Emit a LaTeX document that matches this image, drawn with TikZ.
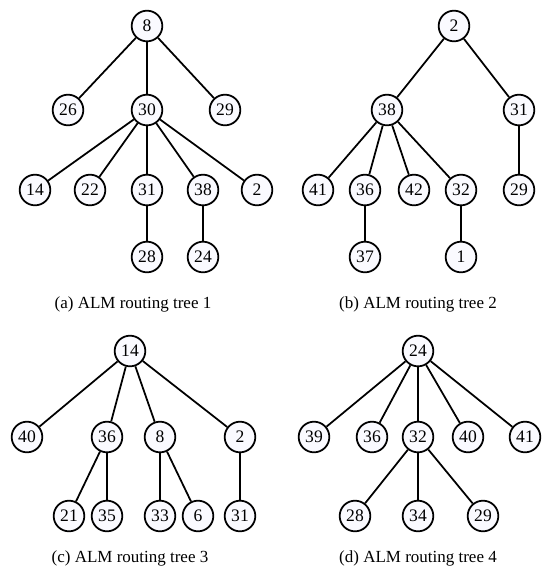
\documentclass[tikz,border=0pt]{standalone}
\usepackage{fontspec}
\setmainfont{Liberation Serif}
\tikzset{
  vertex/.style={circle, draw=black, line width=1.5pt, fill=blue!2, minimum size=0.92cm, inner sep=0pt, font=\fontsize{15}{17}\selectfont},
  branch/.style={line width=1.5pt},
  caption/.style={font=\fontsize{14.5}{16}\selectfont}
}

\begin{document}
\begin{tikzpicture}[x=0.03cm, y=-0.03cm]
			%%%%% START %%%%%
			\useasboundingbox[fill=white] (0, 0) rectangle (550, 582);
			
			% (a) routing tree 1
			\node[vertex] (a8)  at (147, 26)  {8};
			\node[vertex] (a26) at (68, 110)  {26};
			\node[vertex] (a30) at (147, 110) {30};
			\node[vertex] (a29) at (225, 110) {29};
			\node[vertex] (a14) at (35, 190)  {14};
			\node[vertex] (a22) at (90, 190)  {22};
			\node[vertex] (a31) at (147, 190) {31};
			\node[vertex] (a38) at (203, 190) {38};
			\node[vertex] (a2)  at (257, 190) {2};
			\node[vertex] (a28) at (147, 257) {28};
			\node[vertex] (a24) at (203, 257) {24};
			\draw[branch] (a8) -- (a26);
			\draw[branch] (a8) -- (a30);
			\draw[branch] (a8) -- (a29);
			\draw[branch] (a30) -- (a14);
			\draw[branch] (a30) -- (a22);
			\draw[branch] (a30) -- (a31);
			\draw[branch] (a30) -- (a38);
			\draw[branch] (a30) -- (a2);
			\draw[branch] (a31) -- (a28);
			\draw[branch] (a38) -- (a24);
			\node[caption] (capa) at (133, 304) {(a) ALM routing tree 1};
			
			% (b) routing tree 2
			\node[vertex] (b2)  at (454, 26)  {2};
			\node[vertex] (b38) at (387, 110) {38};
			\node[vertex] (b31) at (519, 110) {31};
			\node[vertex] (b41) at (318, 190) {41};
			\node[vertex] (b36) at (365, 190) {36};
			\node[vertex] (b42) at (414, 190) {42};
			\node[vertex] (b32) at (461, 190) {32};
			\node[vertex] (b29) at (519, 190) {29};
			\node[vertex] (b37) at (365, 257) {37};
			\node[vertex] (b1)  at (461, 257) {1};
			\draw[branch] (b2) -- (b38);
			\draw[branch] (b2) -- (b31);
			\draw[branch] (b38) -- (b41);
			\draw[branch] (b38) -- (b36);
			\draw[branch] (b38) -- (b42);
			\draw[branch] (b38) -- (b32);
			\draw[branch] (b31) -- (b29);
			\draw[branch] (b36) -- (b37);
			\draw[branch] (b32) -- (b1);
			\node[caption] (capb) at (418, 304) {(b) ALM routing tree 2};
			
			% (c) routing tree 3
			\node[vertex] (c14) at (130, 351) {14};
			\node[vertex] (c40) at (27, 437)  {40};
			\node[vertex] (c36) at (107, 437) {36};
			\node[vertex] (c8)  at (160, 437) {8};
			\node[vertex] (c2)  at (240, 437) {2};
			\node[vertex] (c21) at (69, 516)  {21};
			\node[vertex] (c35) at (107, 516) {35};
			\node[vertex] (c33) at (160, 516) {33};
			\node[vertex] (c6)  at (198, 516) {6};
			\node[vertex] (c31) at (240, 516) {31};
			\draw[branch] (c14) -- (c40);
			\draw[branch] (c14) -- (c36);
			\draw[branch] (c14) -- (c8);
			\draw[branch] (c14) -- (c2);
			\draw[branch] (c36) -- (c21);
			\draw[branch] (c36) -- (c35);
			\draw[branch] (c8) -- (c33);
			\draw[branch] (c8) -- (c6);
			\draw[branch] (c2) -- (c31);
			\node[caption] (capc) at (130, 558) {(c) ALM routing tree 3};
			
			% (d) routing tree 4
			\node[vertex] (d24) at (418, 351) {24};
			\node[vertex] (d39) at (314, 437) {39};
			\node[vertex] (d36) at (372, 437) {36};
			\node[vertex] (d32) at (418, 437) {32};
			\node[vertex] (d40) at (468, 437) {40};
			\node[vertex] (d41) at (525, 437) {41};
			\node[vertex] (d28) at (355, 516) {28};
			\node[vertex] (d34) at (418, 516) {34};
			\node[vertex] (d29) at (483, 516) {29};
			\draw[branch] (d24) -- (d39);
			\draw[branch] (d24) -- (d36);
			\draw[branch] (d24) -- (d32);
			\draw[branch] (d24) -- (d40);
			\draw[branch] (d24) -- (d41);
			\draw[branch] (d32) -- (d28);
			\draw[branch] (d32) -- (d34);
			\draw[branch] (d32) -- (d29);
			\node[caption] (capd) at (418, 558) {(d) ALM routing tree 4};
			
			%%%%% END %%%%%
\end{tikzpicture}
\end{document}
